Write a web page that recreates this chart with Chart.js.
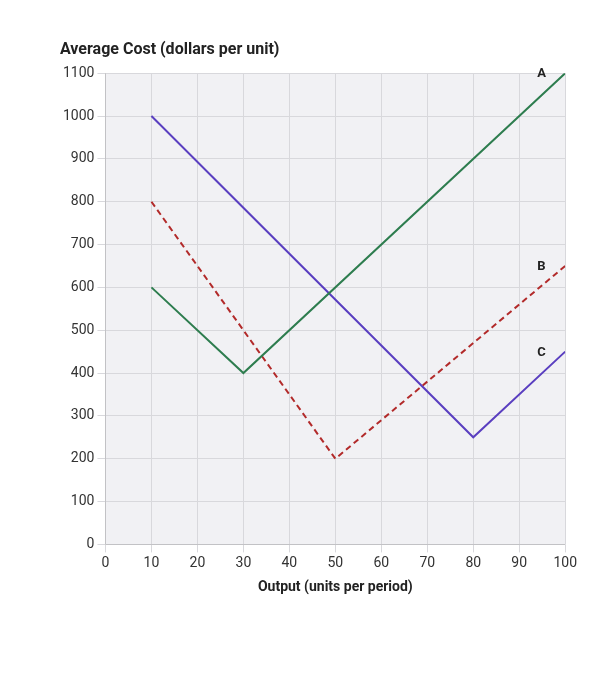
<!DOCTYPE html>
<html>
<head>
<meta charset="utf-8">
<script src="https://cdn.jsdelivr.net/npm/chart.js@4"></script>
<style>
body { margin: 0; background: #fff; font-family: Roboto, sans-serif; }
#wrap { position: absolute; left: 60px; top: 40px; width: 520px; height: 560px; }
</style>
</head>
<body>
<div id="wrap"><canvas id="myChart"></canvas></div>
<script>
// values
var ticksX = [0, 10, 20, 30, 40, 50, 60, 70, 80, 90, 100];
var curveA = [{x: 10, y: 600}, {x: 30, y: 400}, {x: 100, y: 1100}];
var curveB = [{x: 10, y: 800}, {x: 50, y: 200}, {x: 100, y: 650}];
var curveC = [{x: 10, y: 1000}, {x: 80, y: 250}, {x: 100, y: 450}];
var curveNames = ['A', 'B', 'C'];

var bgPlot = {
    id: 'bgPlot',
    beforeDraw: function(chart){
        var a = chart.chartArea, c = chart.ctx;
        c.save();
        c.fillStyle = '#f1f1f4';
        c.fillRect(a.left, a.top, a.right - a.left, a.bottom - a.top);
        c.restore();
    },
    afterDatasetsDraw: function(chart){
        var c = chart.ctx, sx = chart.scales.x, sy = chart.scales.y;
        c.save();
        c.font = 'bold 13px Roboto';
        c.fillStyle = '#222';
        chart.data.datasets.forEach(function(ds, i){
            var p = ds.data[ds.data.length - 1];
            c.fillText(curveNames[i], sx.getPixelForValue(p.x) - 28, sy.getPixelForValue(p.y) + 4);
        });
        c.restore();
    }
};

var ctx = document.getElementById('myChart');
var myChart = new Chart(ctx, {
    type: 'line',
    data: {
        datasets: [
            {label: 'A', data: curveA, borderColor: '#2e7d4f', borderWidth: 2, pointRadius: 0, tension: 0},
            {label: 'B', data: curveB, borderColor: '#b22a2a', borderWidth: 2, borderDash: [6, 4], pointRadius: 0, tension: 0},
            {label: 'C', data: curveC, borderColor: '#5a3fc0', borderWidth: 2, pointRadius: 0, tension: 0}
        ]
    },
    options: {
        responsive: true,
        maintainAspectRatio: false,
        animation: false,
        plugins: {
            legend: {display: false},
            title: {display: true, text: 'Average Cost (dollars per unit)', align: 'start', color: '#222',
                font: {family: 'Roboto', size: 16}, padding: {bottom: 14}}
        },
        scales: {
            x: {type: 'linear', min: 0, max: 100,
                afterBuildTicks: function(ax){ ax.ticks = ticksX.map(function(v){ return {value: v}; }); },
                grid: {color: '#d8d8dc'},
                ticks: {color: '#333', font: {family: 'Roboto', size: 14}, callback: function(v){ return String(v); }},
                title: {display: true, text: 'Output (units per period)', color: '#222', font: {family: 'Roboto', size: 14, weight: 'bold'}}},
            y: {min: 0, max: 1100,
                grid: {color: '#d8d8dc'},
                ticks: {stepSize: 100, color: '#333', font: {family: 'Roboto', size: 14}, callback: function(v){ return String(v); }}}
        }
    },
    plugins: [bgPlot]
});
</script>
</body>
</html>
